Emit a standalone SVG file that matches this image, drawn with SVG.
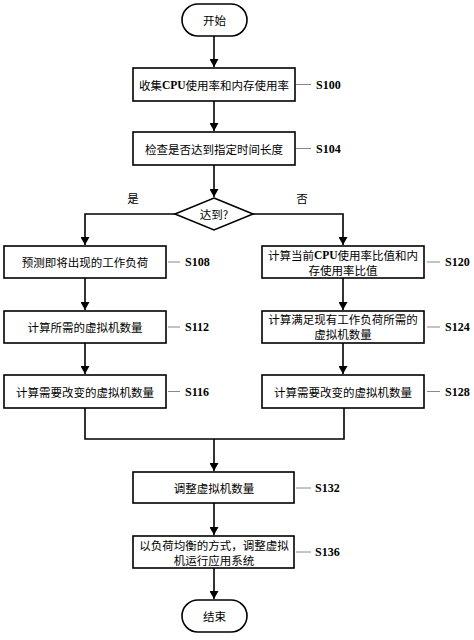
<svg xmlns="http://www.w3.org/2000/svg" width="474" height="640" viewBox="0 0 474 640">
<style>
.box{fill:#fff;stroke:#000;stroke-width:1.6}
.t{font-family:"Noto Sans CJK SC","Noto Sans",sans-serif;font-size:11.5px;fill:#000;text-anchor:middle;dominant-baseline:central}
.b{font-family:"Liberation Serif",serif;font-weight:bold}
.lbl{font-family:"Liberation Serif",serif;font-weight:bold;font-size:12px;fill:#000;dominant-baseline:central}
.lead{stroke:#888;stroke-width:1;fill:none}
.c{stroke:#000;stroke-width:1.6;fill:none}
</style>
<defs>
<marker id="ah" markerWidth="9" markerHeight="9" refX="8" refY="4.5" orient="auto" markerUnits="userSpaceOnUse">
<path d="M0,0 L8,4.5 L0,9 Z" fill="#000"/>
</marker>
</defs>
<g id="connectors">
<path class="c" d="M214,36 V67" marker-end="url(#ah)"/>
<path class="c" d="M214,101 V131" marker-end="url(#ah)"/>
<path class="c" d="M214,165 V197" marker-end="url(#ah)"/>
<path class="c" d="M175,214 H85 V245" marker-end="url(#ah)"/>
<path class="c" d="M253,214 H343 V245" marker-end="url(#ah)"/>
<path class="c" d="M85,278 V310" marker-end="url(#ah)"/>
<path class="c" d="M343,278 V310" marker-end="url(#ah)"/>
<path class="c" d="M85,343 V374" marker-end="url(#ah)"/>
<path class="c" d="M343,343 V374" marker-end="url(#ah)"/>
<path class="c" d="M85,408 V439 H344 V408"/>
<path class="c" d="M214,439 V471" marker-end="url(#ah)"/>
<path class="c" d="M214,503 V535" marker-end="url(#ah)"/>
<path class="c" d="M214,568 V599" marker-end="url(#ah)"/>
<text class="t" x="133" y="198">是</text>
<text class="t" x="302" y="198">否</text>
</g>
<g id="start">
<rect class="box" x="182" y="4" width="65" height="32" rx="16"/>
<text class="t" x="214.5" y="20">开始</text>
</g>
<g id="s100">
<rect class="box" x="133" y="68" width="162" height="33"/>
<text class="t" x="214" y="84.5">收集<tspan class="b">CPU</tspan>使用率和内存使用率</text>
<path class="lead" d="M296,84.5 H311"/>
<text class="lbl" x="316" y="84.5">S100</text>
</g>
<g id="s104">
<rect class="box" x="133" y="132" width="162" height="33"/>
<text class="t" x="214" y="148.5">检查是否达到指定时间长度</text>
<path class="lead" d="M296,148.5 H311"/>
<text class="lbl" x="316" y="148.5">S104</text>
</g>
<g id="decision">
<polygon class="box" points="214,198 253,214 214,230 175,214"/>
<text class="t" x="214" y="214">达到?</text>
</g>
<g id="s108">
<rect class="box" x="4" y="246" width="162" height="32"/>
<text class="t" x="85" y="262">预测即将出现的工作负荷</text>
<path class="lead" d="M168,262 H180"/>
<text class="lbl" x="185" y="262">S108</text>
</g>
<g id="s120">
<rect class="box" x="262" y="246" width="162" height="32"/>
<text class="t" x="343" y="254.5">计算当前<tspan class="b">CPU</tspan>使用率比值和内</text>
<text class="t" x="343" y="269.5">存使用率比值</text>
<path class="lead" d="M427,262 H440"/>
<text class="lbl" x="445" y="262">S120</text>
</g>
<g id="s112">
<rect class="box" x="4" y="311" width="162" height="32"/>
<text class="t" x="85" y="327">计算所需的虚拟机数量</text>
<path class="lead" d="M168,327 H180"/>
<text class="lbl" x="185" y="327">S112</text>
</g>
<g id="s124">
<rect class="box" x="262" y="311" width="162" height="32"/>
<text class="t" x="343" y="319">计算满足现有工作负荷所需的</text>
<text class="t" x="343" y="334">虚拟机数量</text>
<path class="lead" d="M427,327 H440"/>
<text class="lbl" x="445" y="327">S124</text>
</g>
<g id="s116">
<rect class="box" x="4" y="375" width="162" height="33"/>
<text class="t" x="85" y="391.5">计算需要改变的虚拟机数量</text>
<path class="lead" d="M168,391.5 H180"/>
<text class="lbl" x="185" y="391.5">S116</text>
</g>
<g id="s128">
<rect class="box" x="262" y="375" width="162" height="33"/>
<text class="t" x="343" y="391.5">计算需要改变的虚拟机数量</text>
<path class="lead" d="M427,391.5 H440"/>
<text class="lbl" x="445" y="391.5">S128</text>
</g>
<g id="s132">
<rect class="box" x="133" y="472" width="161" height="31"/>
<text class="t" x="214" y="488">调整虚拟机数量</text>
<path class="lead" d="M296,488 H311"/>
<text class="lbl" x="315" y="488">S132</text>
</g>
<g id="s136">
<rect class="box" x="133" y="536" width="161" height="32"/>
<text class="t" x="214" y="544.5">以负荷均衡的方式，调整虚拟</text>
<text class="t" x="214" y="559.5">机运行应用系统</text>
<path class="lead" d="M296,552 H311"/>
<text class="lbl" x="315" y="552">S136</text>
</g>
<g id="end">
<rect class="box" x="182" y="600" width="65" height="32" rx="16"/>
<text class="t" x="214.5" y="616">结束</text>
</g>
</svg>
